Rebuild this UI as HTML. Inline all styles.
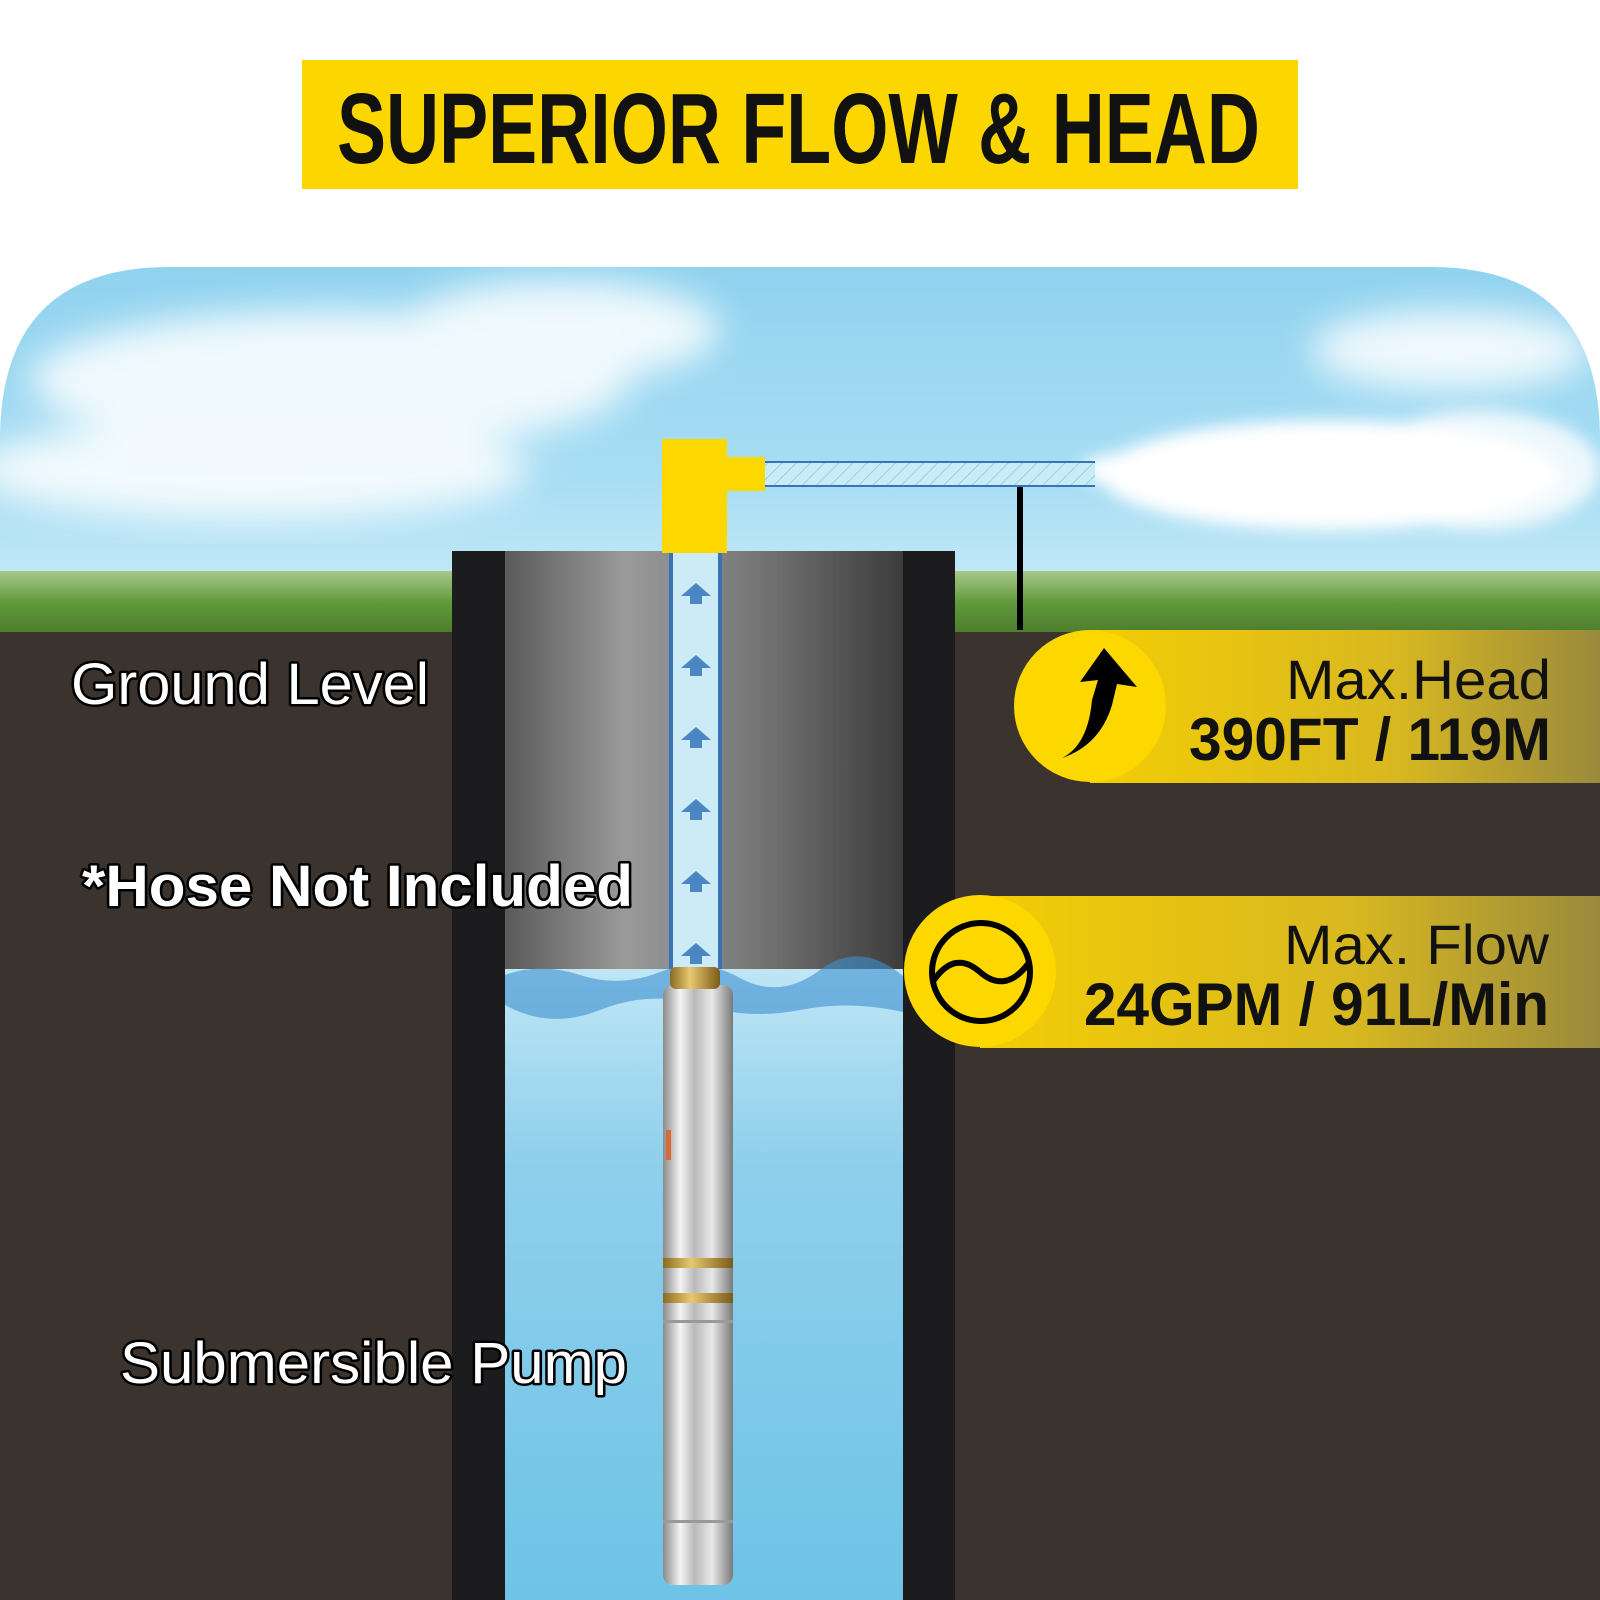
<!DOCTYPE html>
<html><head><meta charset="utf-8"><style>
html,body{margin:0;padding:0;background:#fff;}
svg{display:block;}
</style></head><body>
<svg width="1600" height="1600" viewBox="0 0 1600 1600" xmlns="http://www.w3.org/2000/svg">
<defs>
<linearGradient id="sky" x1="0" y1="0" x2="0" y2="1">
<stop offset="0" stop-color="#8fd2ef"/><stop offset="0.6" stop-color="#a9def4"/><stop offset="1" stop-color="#d2eff8"/></linearGradient>
<linearGradient id="grass" x1="0" y1="0" x2="0" y2="1">
<stop offset="0" stop-color="#a9c88a"/><stop offset="0.5" stop-color="#5f9a3c"/><stop offset="1" stop-color="#4d7b2c"/></linearGradient>
<linearGradient id="inner" x1="0" y1="0" x2="1" y2="0">
<stop offset="0" stop-color="#5a5a5a"/><stop offset="0.3" stop-color="#9a9a9a"/><stop offset="0.6" stop-color="#7a7a7a"/><stop offset="1" stop-color="#3c3c3c"/></linearGradient>
<linearGradient id="water" x1="0" y1="0" x2="0" y2="1">
<stop offset="0" stop-color="#bfe6f5"/><stop offset="0.3" stop-color="#8fd0ec"/><stop offset="1" stop-color="#6ec3e6"/></linearGradient>
<linearGradient id="ban" x1="0" y1="0" x2="1" y2="0">
<stop offset="0" stop-color="#f3cd05"/><stop offset="0.6" stop-color="#d8b820"/><stop offset="1" stop-color="#9a8a3c"/></linearGradient>
<linearGradient id="pump" x1="0" y1="0" x2="1" y2="0">
<stop offset="0" stop-color="#8a8a8a"/><stop offset="0.25" stop-color="#f4f4f4"/><stop offset="0.45" stop-color="#b9b9b9"/><stop offset="0.7" stop-color="#e8e8e8"/><stop offset="1" stop-color="#7a7a7a"/></linearGradient>
<linearGradient id="gold" x1="0" y1="0" x2="1" y2="0">
<stop offset="0" stop-color="#8a6a20"/><stop offset="0.4" stop-color="#e8c870"/><stop offset="1" stop-color="#7a5a18"/></linearGradient>
<pattern id="hatch" width="10" height="10" patternUnits="userSpaceOnUse" patternTransform="rotate(45)">
<rect width="10" height="10" fill="#c9ecf7"/><line x1="0" y1="0" x2="0" y2="10" stroke="#7fcbe0" stroke-width="1.5"/></pattern>
<filter id="blur"><feGaussianBlur stdDeviation="18"/></filter>
<filter id="blur2"><feGaussianBlur stdDeviation="8"/></filter>
<clipPath id="scene"><path d="M0,440 Q0,267 170,267 L1430,267 Q1600,267 1600,440 L1600,1600 L0,1600 Z"/></clipPath>
</defs>

<rect x="302" y="60" width="996" height="129" fill="#fbd600"/>
<text x="337" y="163" font-family="Liberation Sans Narrow, Liberation Sans, sans-serif" font-weight="bold" font-size="100" textLength="923" lengthAdjust="spacingAndGlyphs" fill="#111">SUPERIOR FLOW &amp; HEAD</text>

<g clip-path="url(#scene)">
<rect x="0" y="260" width="1600" height="380" fill="url(#sky)"/>
<g filter="url(#blur)" fill="#fff" opacity="0.85">
<ellipse cx="330" cy="380" rx="300" ry="70"/>
<ellipse cx="560" cy="330" rx="160" ry="50"/>
<ellipse cx="250" cy="470" rx="280" ry="50"/>
<ellipse cx="1450" cy="350" rx="140" ry="40"/>
</g>
<g filter="url(#blur2)" fill="#fff">
<ellipse cx="1330" cy="475" rx="230" ry="55"/>
<ellipse cx="1480" cy="470" rx="120" ry="60" opacity="0.8"/>
<ellipse cx="1160" cy="470" rx="80" ry="20"/>
</g>
<rect x="0" y="571" width="1600" height="64" fill="url(#grass)"/>
<rect x="0" y="632" width="1600" height="970" fill="#3b332e"/>
</g>

<rect x="452" y="551" width="503" height="1050" fill="#1c1c1e"/>
<rect x="505" y="551" width="398" height="420" fill="url(#inner)"/>
<rect x="505" y="969" width="398" height="632" fill="url(#water)"/>
<path d="M505,975 Q540,962 580,975 T660,972 T740,978 T820,970 T903,976 L903,1012 Q850,1000 800,1010 T700,1005 T600,1010 T505,1005 Z" fill="#3d8fcf" opacity="0.6"/>

<rect x="669" y="551" width="53" height="418" fill="#cdebf7"/>
<rect x="669" y="551" width="4" height="418" fill="#3a72b8"/>
<rect x="718" y="551" width="4" height="418" fill="#3a72b8"/>
<g fill="#4a86c4">
<path d="M696,583 l-15,13 h9 v8 h12 v-8 h9 z"/>
<path d="M696,655 l-15,13 h9 v8 h12 v-8 h9 z"/>
<path d="M696,727 l-15,13 h9 v8 h12 v-8 h9 z"/>
<path d="M696,799 l-15,13 h9 v8 h12 v-8 h9 z"/>
<path d="M696,871 l-15,13 h9 v8 h12 v-8 h9 z"/>
<path d="M696,943 l-15,13 h9 v8 h12 v-8 h9 z"/>
</g>

<rect x="662" y="439" width="65" height="114" fill="#fdd700"/>
<rect x="727" y="457" width="38" height="34" fill="#fdd700"/>
<rect x="765" y="462" width="330" height="24" fill="url(#hatch)"/>
<rect x="765" y="461" width="330" height="2" fill="#3a72b8"/>
<rect x="765" y="485" width="330" height="2" fill="#3a72b8"/>
<rect x="1017" y="487" width="6" height="143" fill="#000"/>

<rect x="663" y="985" width="70" height="600" rx="10" fill="url(#pump)"/>
<rect x="670" y="967" width="50" height="22" rx="6" fill="url(#gold)"/>
<rect x="663" y="1258" width="70" height="10" fill="url(#gold)"/>
<rect x="663" y="1293" width="70" height="10" fill="url(#gold)"/>
<rect x="663" y="1320" width="70" height="3" fill="#999"/>
<rect x="663" y="1520" width="70" height="3" fill="#999"/>
<rect x="666" y="1130" width="5" height="30" fill="#d86a3a"/>

<rect x="1090" y="630" width="510" height="153" fill="url(#ban)"/>
<circle cx="1090" cy="706" r="76" fill="#fdd700"/>
<path d="M1062,758 Q1088,745 1092,700 L1098,680 L1080,682 L1104,648 L1137,687 L1117,684 L1112,705 Q1100,745 1062,758 Z" fill="#000"/>
<rect x="980" y="896" width="620" height="152" fill="url(#ban)"/>
<circle cx="980" cy="971" r="76" fill="#fdd700"/>
<circle cx="981" cy="972" r="49" fill="none" stroke="#000" stroke-width="6"/>
<path d="M934,980 Q955,950 980,972 T1028,964" fill="none" stroke="#000" stroke-width="6"/>

<g font-family="Liberation Sans, sans-serif" fill="#111" text-anchor="end">
<text x="1551" y="699" font-size="56" textLength="265" lengthAdjust="spacingAndGlyphs">Max.Head</text>
<text x="1551" y="760" font-size="60" font-weight="bold" textLength="362" lengthAdjust="spacingAndGlyphs">390FT / 119M</text>
<text x="1549" y="964" font-size="56" textLength="265" lengthAdjust="spacingAndGlyphs">Max. Flow</text>
<text x="1549" y="1025" font-size="60" font-weight="bold" textLength="465" lengthAdjust="spacingAndGlyphs">24GPM / 91L/Min</text>
</g>

<g font-family="Liberation Sans, sans-serif" fill="#fff" stroke="#000" stroke-width="5" paint-order="stroke" stroke-linejoin="round">
<text x="71" y="704" font-size="58" textLength="358" lengthAdjust="spacingAndGlyphs">Ground Level</text>
<text x="82" y="906" font-size="58" font-weight="bold" textLength="551" lengthAdjust="spacingAndGlyphs">*Hose Not Included</text>
<text x="120" y="1383" font-size="58" textLength="507" lengthAdjust="spacingAndGlyphs">Submersible Pump</text>
</g>
</svg>
</body></html>
